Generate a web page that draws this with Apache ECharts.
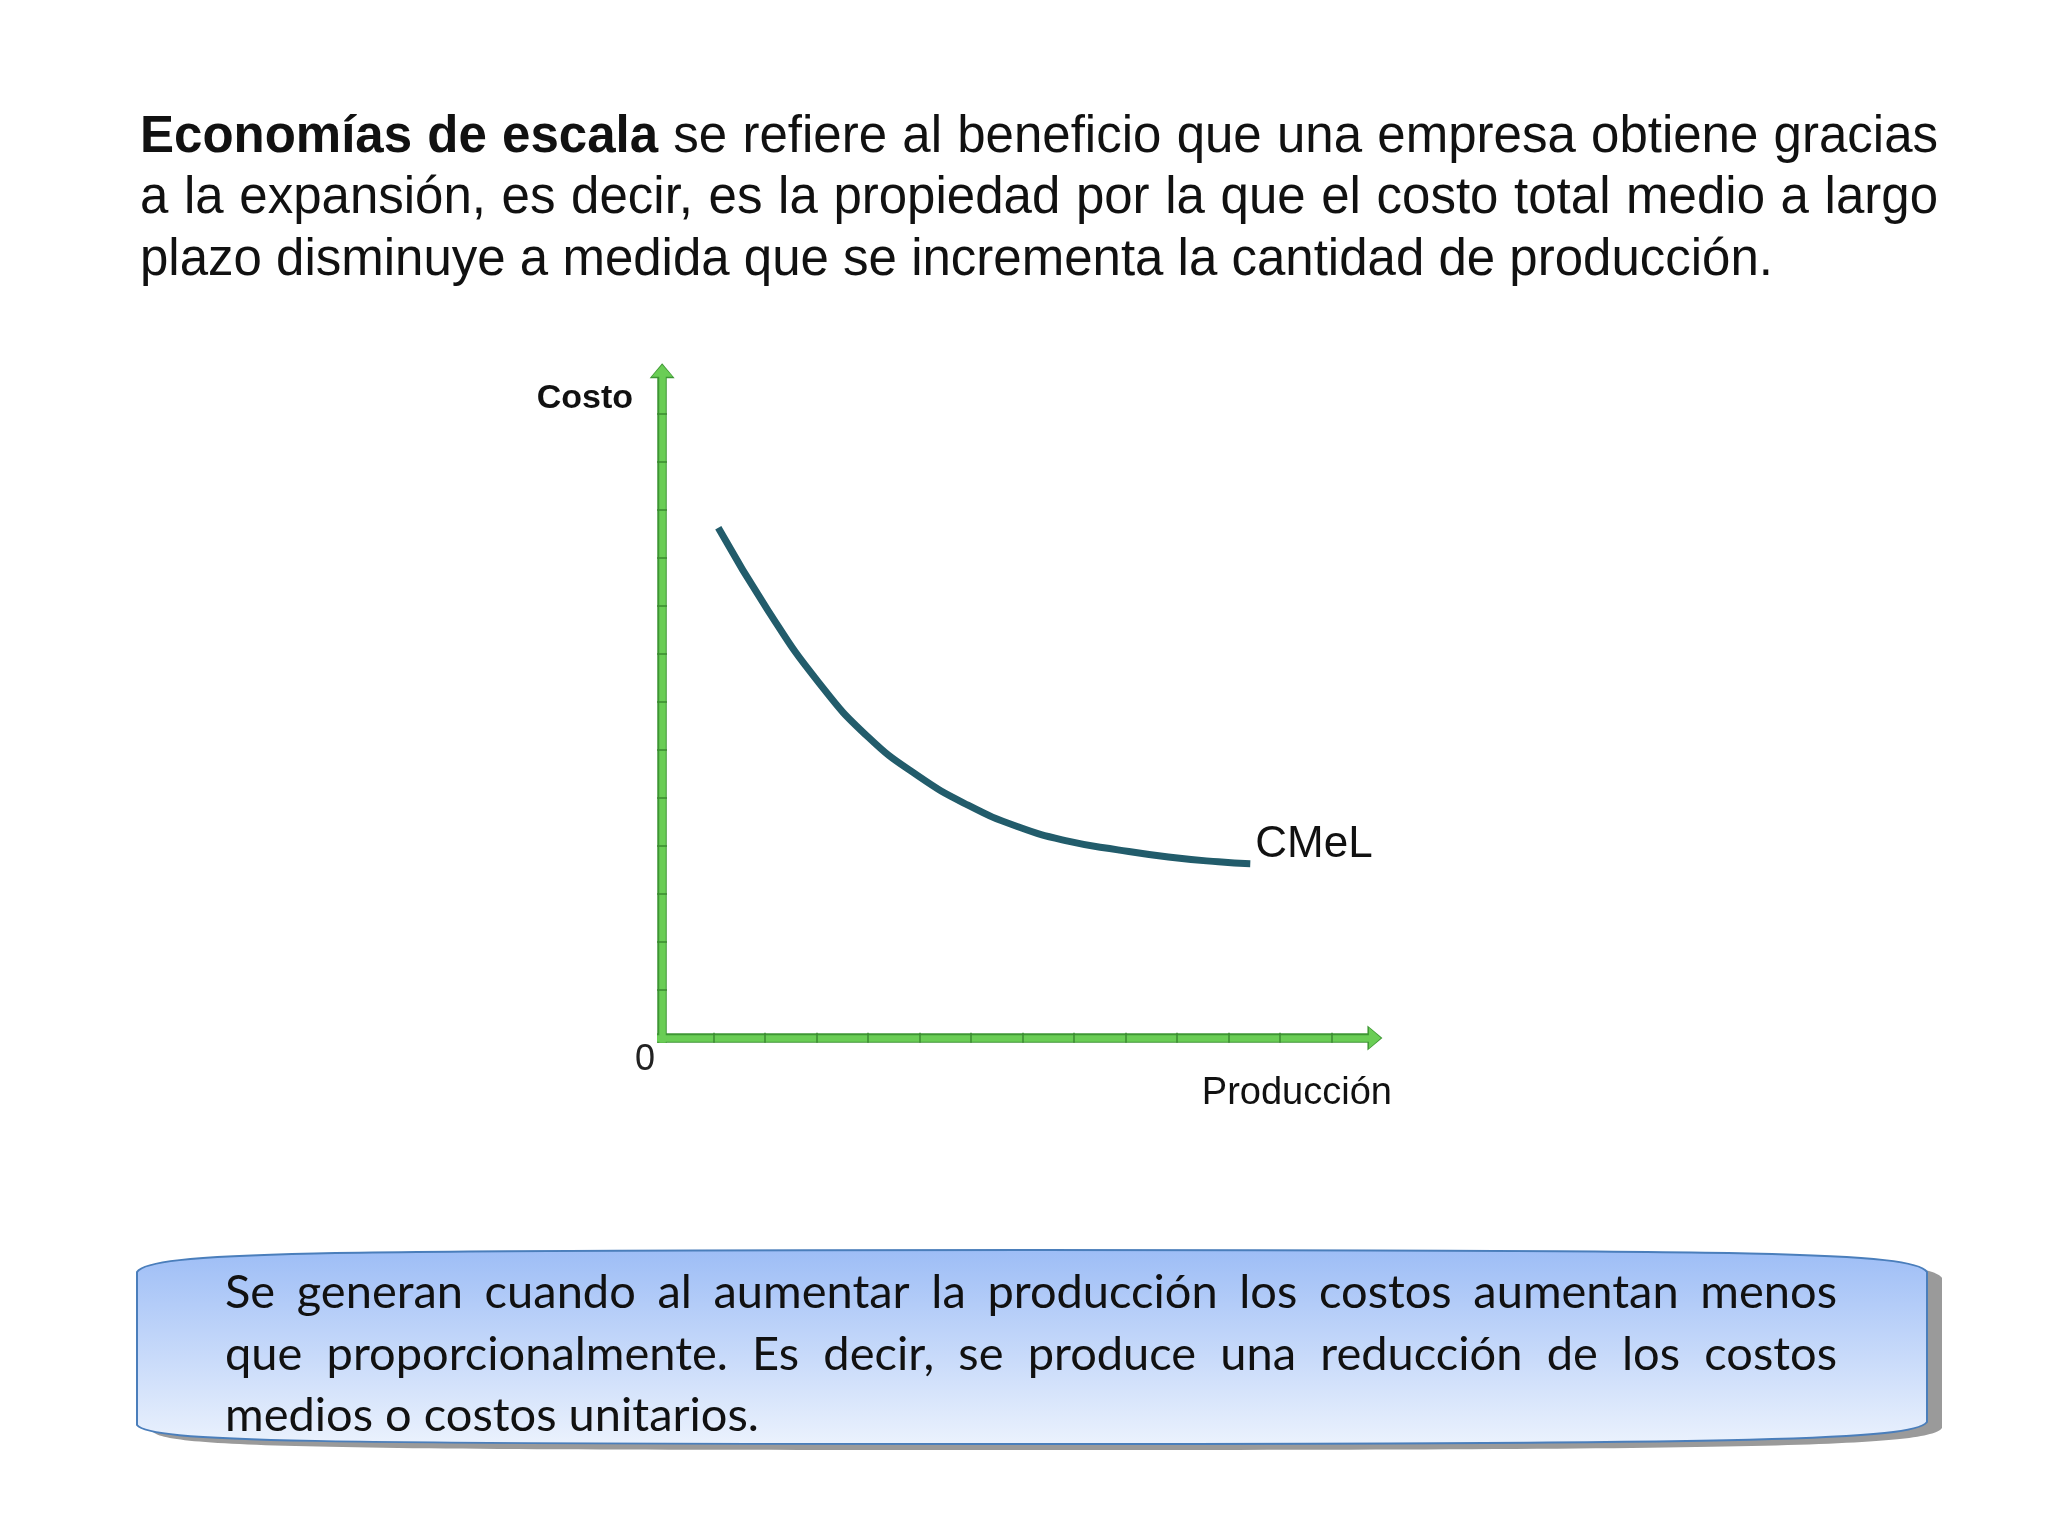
<!DOCTYPE html>
<html><head><meta charset="utf-8">
<script src="https://cdn.jsdelivr.net/npm/echarts@6/dist/echarts.min.js"></script>
<style>html,body{margin:0;padding:0;background:#fff}#c{width:2048px;height:1536px}</style>
</head><body><div id="c"></div>
<script>
// ---------------- data ----------------
const titleLines = [
  [["Economías de escala", true], ["se refiere al beneficio que una empresa obtiene gracias", false]],
  [["a la expansión, es decir, es la propiedad por la que el costo total medio a largo", false]],
  [["plazo disminuye a medida que se incrementa la cantidad de producción.", false]]
];
const boxLines = [
  "Se generan cuando al aumentar la producción los costos aumentan menos",
  "que proporcionalmente. Es decir, se produce una reducción de los costos",
  "medios o costos unitarios."
];
const yAxisName = "Costo";
const xAxisName = "Producción";
const originLabel = "0";
const seriesName = "CMeL";
const produccion = [1.09, 2.06, 3.03, 4.00, 4.97, 5.94, 6.91, 7.88, 8.85, 9.83, 10.80, 11.42];
const costoMedio = [10.63, 8.90, 7.42, 6.27, 5.46, 4.85, 4.40, 4.10, 3.92, 3.77, 3.67, 3.63];
const xTicks = [1, 2, 3, 4, 5, 6, 7, 8, 9, 10, 11, 12, 13];
const yTicks = [1, 2, 3, 4, 5, 6, 7, 8, 9, 10, 11, 12, 13];
const xMin = -0.1, xMax = 13.84;
const yMin = -0.1, yMax = 13.9;

// ---------------- styles ----------------
const DARK = '#3e9634', LIGHT = '#6acd55', TICK = '#3b8a30';
const CURVE = '#225c6b';
const SANS = '"Liberation Sans", Arial, sans-serif';
const BOXFONT = 'Lato, "Open Sans", sans-serif';

const ctx = document.createElement('canvas').getContext('2d');
function measure(text, font) { ctx.font = font; return ctx.measureText(text).width; }
function layoutLine(tokens, x0, width, yMid, size, family, justify, color) {
  const words = [];
  tokens.forEach(([t, b]) => t.split(' ').forEach(w => words.push({ w, b })));
  const fontOf = b => (b ? 'bold ' : '') + size + 'px ' + family;
  const widths = words.map(o => measure(o.w, fontOf(o.b)));
  const total = widths.reduce((a, c) => a + c, 0);
  const space = justify ? (width - total) / (words.length - 1) : measure(' ', fontOf(false));
  let x = x0;
  return words.map((o, i) => {
    const el = { type: 'text', x: x, y: yMid, silent: true, z: 10,
      style: { text: o.w, font: fontOf(o.b), fill: color, textAlign: 'left', textVerticalAlign: 'middle' } };
    x += widths[i] + space;
    return el;
  });
}

// decorative callout box shape
const boxPath = 'M137,1272 C150,1252 300,1250 1032,1250 C1764,1250 1914,1252 1927,1272 L1927,1422 C1914,1440 1764,1444 1032,1444 C300,1444 150,1442 137,1425 Z';
echarts.graphic.registerShape('calloutBox', echarts.graphic.extendPath(boxPath, {}));

const graphics = [];
// title paragraph
const titleSize = 51, titleTop = 137.5, titleStep = 61.6;
titleLines.forEach((ln, i) => {
  graphics.push(...layoutLine(ln, 140, 1798, titleTop + i * titleStep, titleSize, SANS, i < titleLines.length - 1, '#111'));
});
graphics.push({ type: 'calloutBox', x: 15, y: 6, silent: true, z: 1,
  style: { fill: '#9a9a9a', stroke: null } });
graphics.push({ type: 'calloutBox', silent: true, z: 2,
  style: { fill: { type: 'linear', x: 0, y: 0, x2: 0, y2: 1, colorStops: [
      { offset: 0, color: '#9dbdf6' }, { offset: 1, color: '#ebf2fd' }] },
    stroke: '#4a7ebb', lineWidth: 2 } });
const boxSize = 47, boxTop = 1293, boxStep = 61.5;
boxLines.forEach((ln, i) => {
  graphics.push(...layoutLine([[ln, false]], 225, 1612, boxTop + i * boxStep, boxSize, BOXFONT, i < boxLines.length - 1, '#111'));
});

// ---------------- chart ----------------
function baseAxis(min, max, extra) {
  return Object.assign({ type: 'value', min: min, max: max, gridIndex: 0,
    splitLine: { show: false }, axisLabel: { show: false }, axisTick: { show: false } }, extra);
}
const lineAxis = (min, max, dark) => baseAxis(min, max, {
  z: dark ? 1 : 2,
  axisLine: { show: true, onZero: true, onZeroAxisIndex: 0,
    symbol: ['none', 'triangle'], symbolSize: dark ? [25, 15] : [21, 12],
    lineStyle: { color: dark ? DARK : LIGHT, width: dark ? 9.5 : 6.5, cap: 'butt' } }
});

const chart = echarts.init(document.getElementById('c'), null, { renderer: 'canvas' });
chart.setOption({
  animation: false,
  backgroundColor: '#ffffff',
  grid: { left: 657, top: 370.8, width: 51.5 * (xMax - xMin), height: 48 * (yMax - yMin), outerBoundsMode: 'none', containLabel: false },
  xAxis: [
    lineAxis(xMin, xMax, true),
    lineAxis(xMin, xMax, false),
    baseAxis(xMin, xMax, { z: 3, position: 'bottom', offset: 0,
      axisLine: { show: false, onZero: false },
      axisTick: { show: true, inside: true, length: 10, customValues: xTicks, lineStyle: { color: TICK, width: 1.5 } },
      name: xAxisName, nameLocation: 'end', nameGap: 17,
      nameTextStyle: { fontFamily: SANS, fontSize: 38, color: '#111', align: 'right', verticalAlign: 'top', padding: [32, 0, 0, 0] } })
  ],
  yAxis: [
    lineAxis(yMin, yMax, true),
    lineAxis(yMin, yMax, false),
    baseAxis(yMin, yMax, { z: 3, position: 'left', offset: 0,
      axisLine: { show: false, onZero: false },
      axisTick: { show: true, inside: true, length: 10, customValues: yTicks, lineStyle: { color: TICK, width: 1.5 } },
      axisLabel: { show: true, customValues: [0], formatter: () => originLabel, margin: 2,
        fontFamily: SANS, fontSize: 36, color: '#222', verticalAlign: 'top', padding: [4, 0, 0, 0] },
      name: yAxisName, nameLocation: 'end', nameGap: -28,
      nameTextStyle: { fontFamily: SANS, fontSize: 34, fontWeight: 'bold', color: '#111', align: 'right', verticalAlign: 'middle', padding: [0, 24, 0, 0] } })
  ],
  series: [{
    name: seriesName, type: 'line', xAxisIndex: 0, yAxisIndex: 0,
    data: produccion.map((x, i) => [x, costoMedio[i]]),
    smooth: 0.5, showSymbol: false, silent: true, z: 5,
    lineStyle: { color: CURVE, width: 7, cap: 'butt', join: 'round' },
    endLabel: { show: true, formatter: seriesName, fontFamily: SANS, fontSize: 44, color: '#111',
      distance: 5, offset: [0, -19] }
  }],
  graphic: graphics
});
</script></body></html>
